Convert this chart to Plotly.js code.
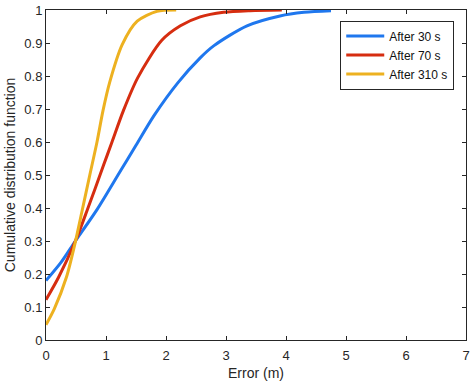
<!DOCTYPE html>
<html>
<head>
<meta charset="utf-8">
<script src="https://cdn.plot.ly/plotly-3.0.1.min.js"></script>
<style>html,body{margin:0;padding:0;background:#fff;}#chart{width:474px;height:382px;}</style>
</head>
<body>
<div id="chart"></div>
<script>
// Data
const seriesNames = ["After 30 s", "After 70 s", "After 310 s"];
const x30 = [0, 0.25, 0.49, 0.85, 1.25, 1.5, 1.8, 2.2, 2.57, 2.8, 3.35, 3.9, 4.3, 4.75];
const y30 = [0.18, 0.235, 0.30, 0.395, 0.515, 0.59, 0.68, 0.78, 0.855, 0.892, 0.952, 0.982, 0.993, 0.998];
const x70 = [0, 0.21, 0.49, 0.68, 0.96, 1.1, 1.29, 1.53, 1.93, 2.24, 2.57, 2.96, 3.4, 3.93];
const y70 = [0.122, 0.19, 0.30, 0.39, 0.53, 0.60, 0.695, 0.795, 0.908, 0.952, 0.979, 0.993, 0.998, 1.0];
const x310 = [0, 0.14, 0.34, 0.48, 0.6, 0.73, 0.85, 0.95, 1.06, 1.27, 1.52, 1.85, 2.17];
const y310 = [0.046, 0.095, 0.19, 0.29, 0.39, 0.5, 0.6, 0.695, 0.78, 0.895, 0.966, 0.996, 1.0];
const xTicks = [0, 1, 2, 3, 4, 5, 6, 7];
const yTicks = [0, 0.1, 0.2, 0.3, 0.4, 0.5, 0.6, 0.7, 0.8, 0.9, 1];
const yTickText = ["0", "0.1", "0.2", "0.3", "0.4", "0.5", "0.6", "0.7", "0.8", "0.9", "1"];

const colors = ["#1f77ee", "#d62d10", "#edb120"];
const xs = [x30, x70, x310];
const ys = [y30, y70, y310];
const FONT = "Liberation Sans, Arial, sans-serif";

const traces = seriesNames.map((n, i) => ({
  x: xs[i], y: ys[i], name: n, type: "scatter", mode: "lines",
  line: {color: colors[i], width: 3, shape: "spline", smoothing: 0.8}
}));

const axisCommon = {
  showgrid: false, zeroline: false, showline: true, linecolor: "#262626", linewidth: 1,
  mirror: "allticks", ticks: "inside", ticklen: 4, tickcolor: "#262626",
  tickfont: {family: FONT, size: 13, color: "#262626"}
};

const layout = {
  width: 474, height: 382,
  margin: {l: 46, r: 8, t: 10, b: 42},
  paper_bgcolor: "#fff", plot_bgcolor: "#fff",
  showlegend: true,
  legend: {
    x: 0.972, y: 0.968, xanchor: "right", yanchor: "top",
    bgcolor: "#fff", bordercolor: "#262626", borderwidth: 1,
    font: {family: FONT, size: 12, color: "#111"},
    itemwidth: 38, tracegroupgap: 0
  },
  xaxis: Object.assign({}, axisCommon, {
    range: [0, 7], tickvals: xTicks, ticktext: xTicks.map(String),
    ticklabelstandoff: 3,
    title: {text: "Error (m)", font: {family: FONT, size: 14, color: "#262626"}, standoff: 6}
  }),
  yaxis: Object.assign({}, axisCommon, {
    range: [0, 1], tickvals: yTicks, ticktext: yTickText,
    title: {text: "Cumulative distribution function", font: {family: FONT, size: 14, color: "#262626"}, standoff: 5}
  })
};

Plotly.newPlot("chart", traces, layout, {displayModeBar: false, staticPlot: true});
</script>
</body>
</html>
